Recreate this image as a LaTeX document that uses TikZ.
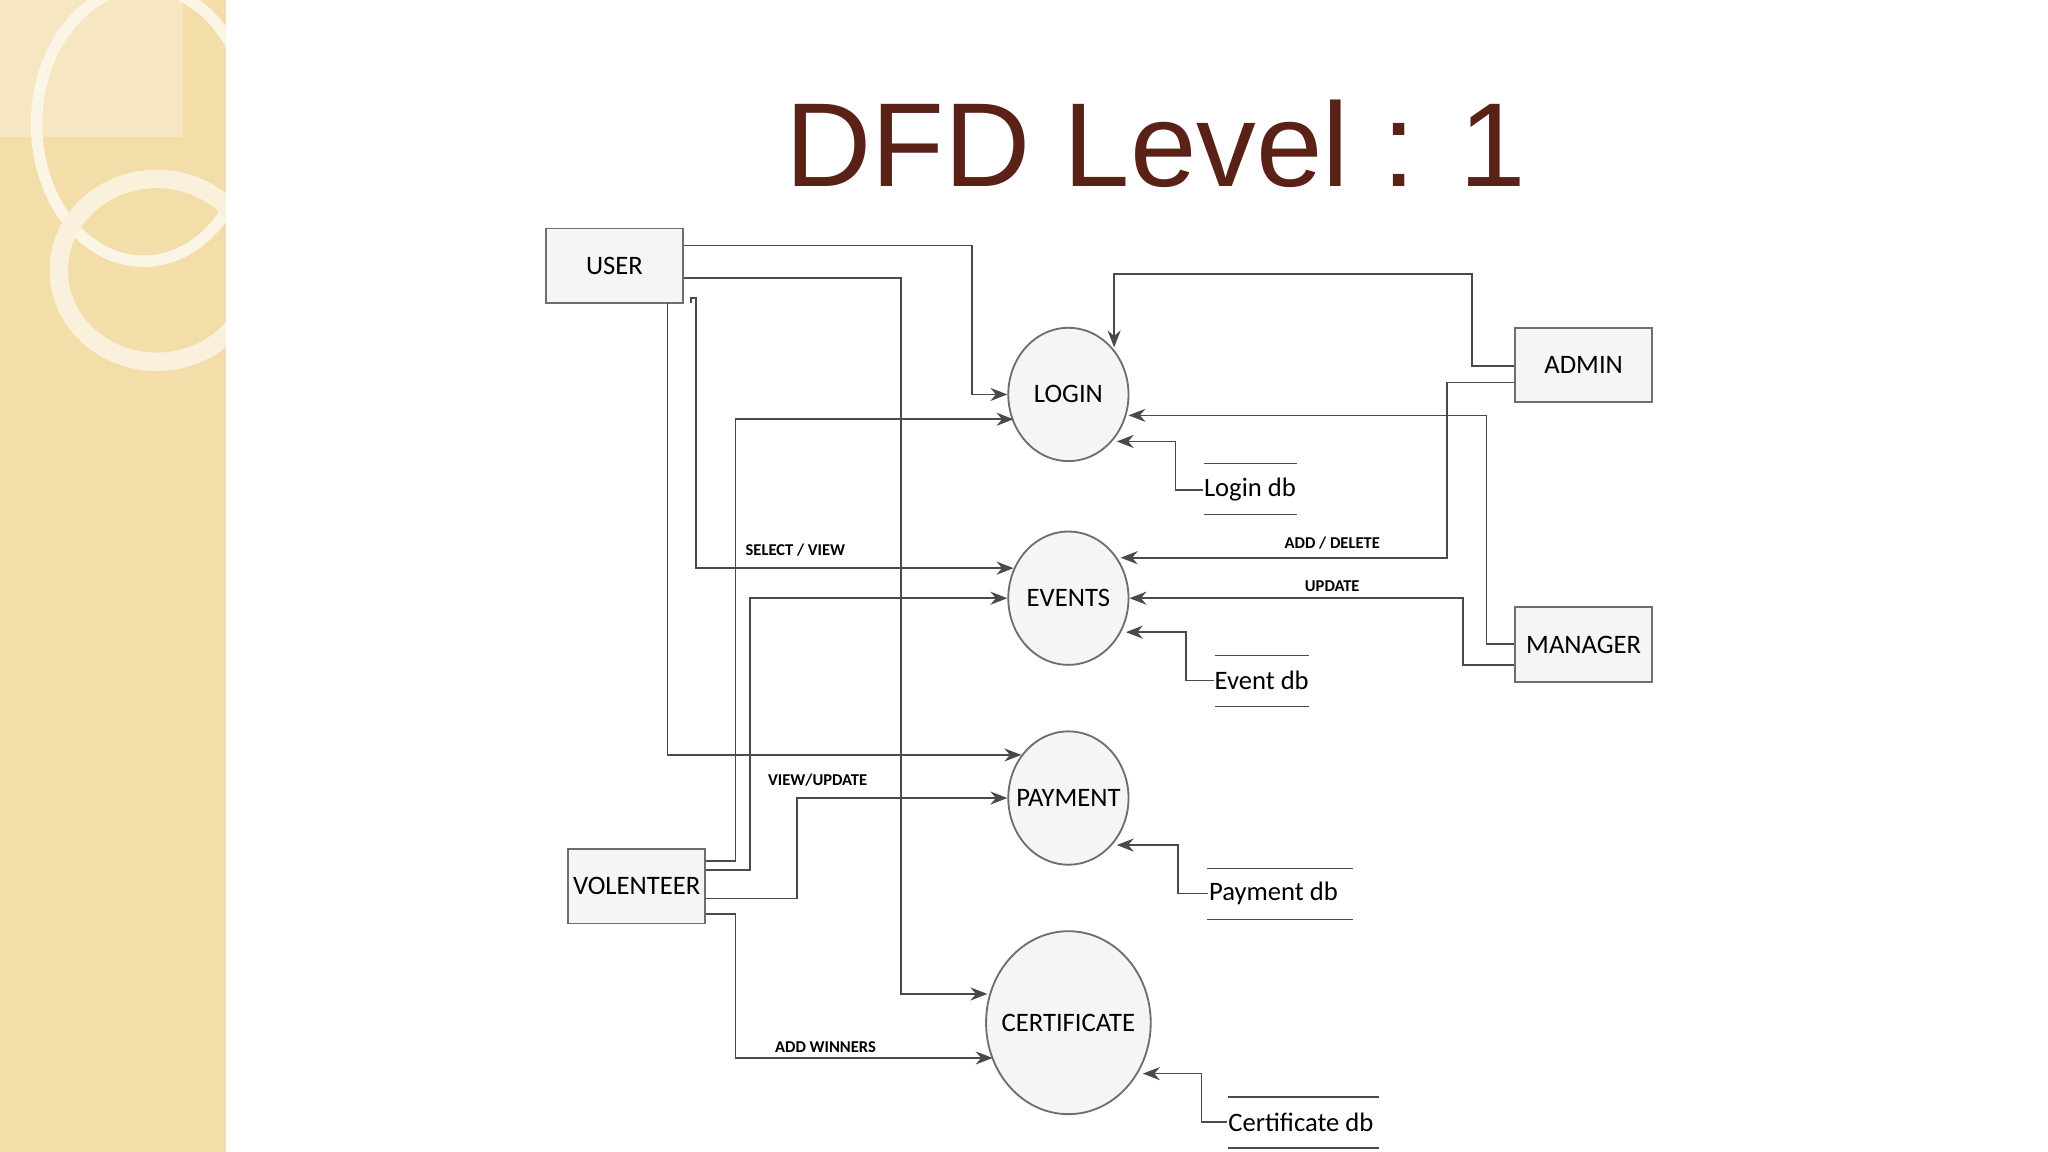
\documentclass[tikz,border=0pt]{standalone}
\usepackage{fontspec}
\setmainfont{Carlito}
\newfontfamily\titlefont{Liberation Sans}
\usetikzlibrary{shapes.geometric,arrows.meta}
\definecolor{band}{HTML}{F3DDA8}
\definecolor{titlec}{HTML}{5A2117}
\definecolor{ln}{HTML}{4A4A4A}
\tikzset{
  ent/.style={draw=ln!80,fill=gray!8,minimum width=1.05cm,minimum height=0.57cm,inner sep=0pt,font=\fontsize{5.8}{7}\selectfont},
  proc/.style={ellipse,draw=ln!80,fill=gray!8,minimum width=0.92cm,minimum height=1.02cm,inner xsep=-6pt,inner ysep=0pt,font=\fontsize{5.8}{7}\selectfont},
  flow/.style={draw=ln,line width=0.35pt,-{Stealth[length=1.3mm,width=1mm]}},
  plain/.style={draw=ln,line width=0.35pt},
  lab/.style={font=\bfseries\fontsize{3.6}{4}\selectfont,inner sep=0pt},
  dbt/.style={font=\fontsize{5.8}{7}\selectfont,inner sep=0pt}
}
\begin{document}
\begin{tikzpicture}[x=0.01cm,y=-0.01cm]
\useasboundingbox (0,0) rectangle (1568,882);
\fill[white] (0,0) rectangle (1568,882);
\fill[band] (0,0) rectangle (173,882);
\begin{scope}
\clip (0,0) rectangle (173,882);
\fill[white,opacity=0.3] (0,0) rectangle (140,105);
\draw[white!70!band,line width=2.5pt] (110,95) ellipse [x radius=82,y radius=105];
\draw[white!60!band,line width=4pt] (120,207) ellipse [x radius=75,y radius=70];
\end{scope}
\node[text=titlec,font=\titlefont\fontsize{26}{30}\selectfont] (title) at (885,110) {DFD Level : 1};

\node[ent] (user) at (470.5,203.5) {USER};
\node[ent] (admin) at (1212.5,279.5) {ADMIN};
\node[ent] (manager) at (1212.5,493.5) {MANAGER};
\node[ent] (vol) at (487.5,678.5) {VOLENTEER};
\node[proc] (login) at (818,302) {LOGIN};
\node[proc] (events) at (818,458) {EVENTS};
\node[proc] (payment) at (818,611) {PAYMENT};
\node[proc,minimum width=1.26cm,minimum height=1.4cm] (cert) at (818,783) {CERTIFICATE};

\node[dbt] (logindb) at (957,375) {Login db};
\draw[plain] (922,355) -- (993,355) (922,394) -- (993,394);
\node[dbt] (eventdb) at (966,521) {Event db};
\draw[plain] (930,502) -- (1002,502) (930,541) -- (1002,541);
\node[dbt] (paydb) at (975,684) {Payment db};
\draw[plain] (924,665) -- (1036,665) (924,704) -- (1036,704);
\node[dbt] (certdb) at (996,859) {Certificate db};
\draw[plain] (940,840) -- (1056,840) (940,879) -- (1056,879);
\draw[flow] (logindb.west) -- (900,375) -- (900,338) -- (855,338);
\draw[flow] (eventdb.west) -- (908,521) -- (908,484) -- (862,484);
\draw[flow] (paydb.west) -- (902,684) -- (902,647) -- (855,647);
\draw[flow] (certdb.west) -- (920,859) -- (920,822) -- (875,822);

\draw[flow] (user.east |- 0,188) -- (744,188) -- (744,302) -- (login.west);
\draw[flow] (user.east |- 0,213) -- (690,213) -- (690,761) -- (756,761);
\draw[flow] (529,232) -- (529,228) -- (533,228) -- (533,435) -- (776,435);
\draw[flow] (511,232) -- (511,578) -- (782,578);
\node[lab] (l1) at (609,421) {SELECT / VIEW};

\draw[flow] (vol.east |- 0,659) -- (563,659) -- (563,321) -- (776,321);
\draw[flow] (vol.east |- 0,666) -- (574,666) -- (574,458) -- (events.west);
\draw[flow] (vol.east |- 0,688) -- (610,688) -- (610,611) -- (payment.west);
\draw[flow] (vol.east |- 0,700) -- (563,700) -- (563,810) -- (760,810);
\node[lab] (l2) at (626,597) {VIEW/UPDATE};
\node[lab] (l3) at (632,802) {ADD WINNERS};

\draw[flow] (admin.west |- 0,280) -- (1127,280) -- (1127,210) -- (853,210) -- (853,266);
\draw[flow] (admin.west |- 0,293) -- (1108,293) -- (1108,427) -- (858,427);
\node[lab] (l4) at (1020,416) {ADD / DELETE};
\draw[flow] (manager.west |- 0,493) -- (1138,493) -- (1138,318) -- (864,318);
\draw[flow] (manager.west |- 0,509) -- (1120,509) -- (1120,458) -- (events.east);
\node[lab] (l5) at (1020,449) {UPDATE};
\end{tikzpicture}
\end{document}
